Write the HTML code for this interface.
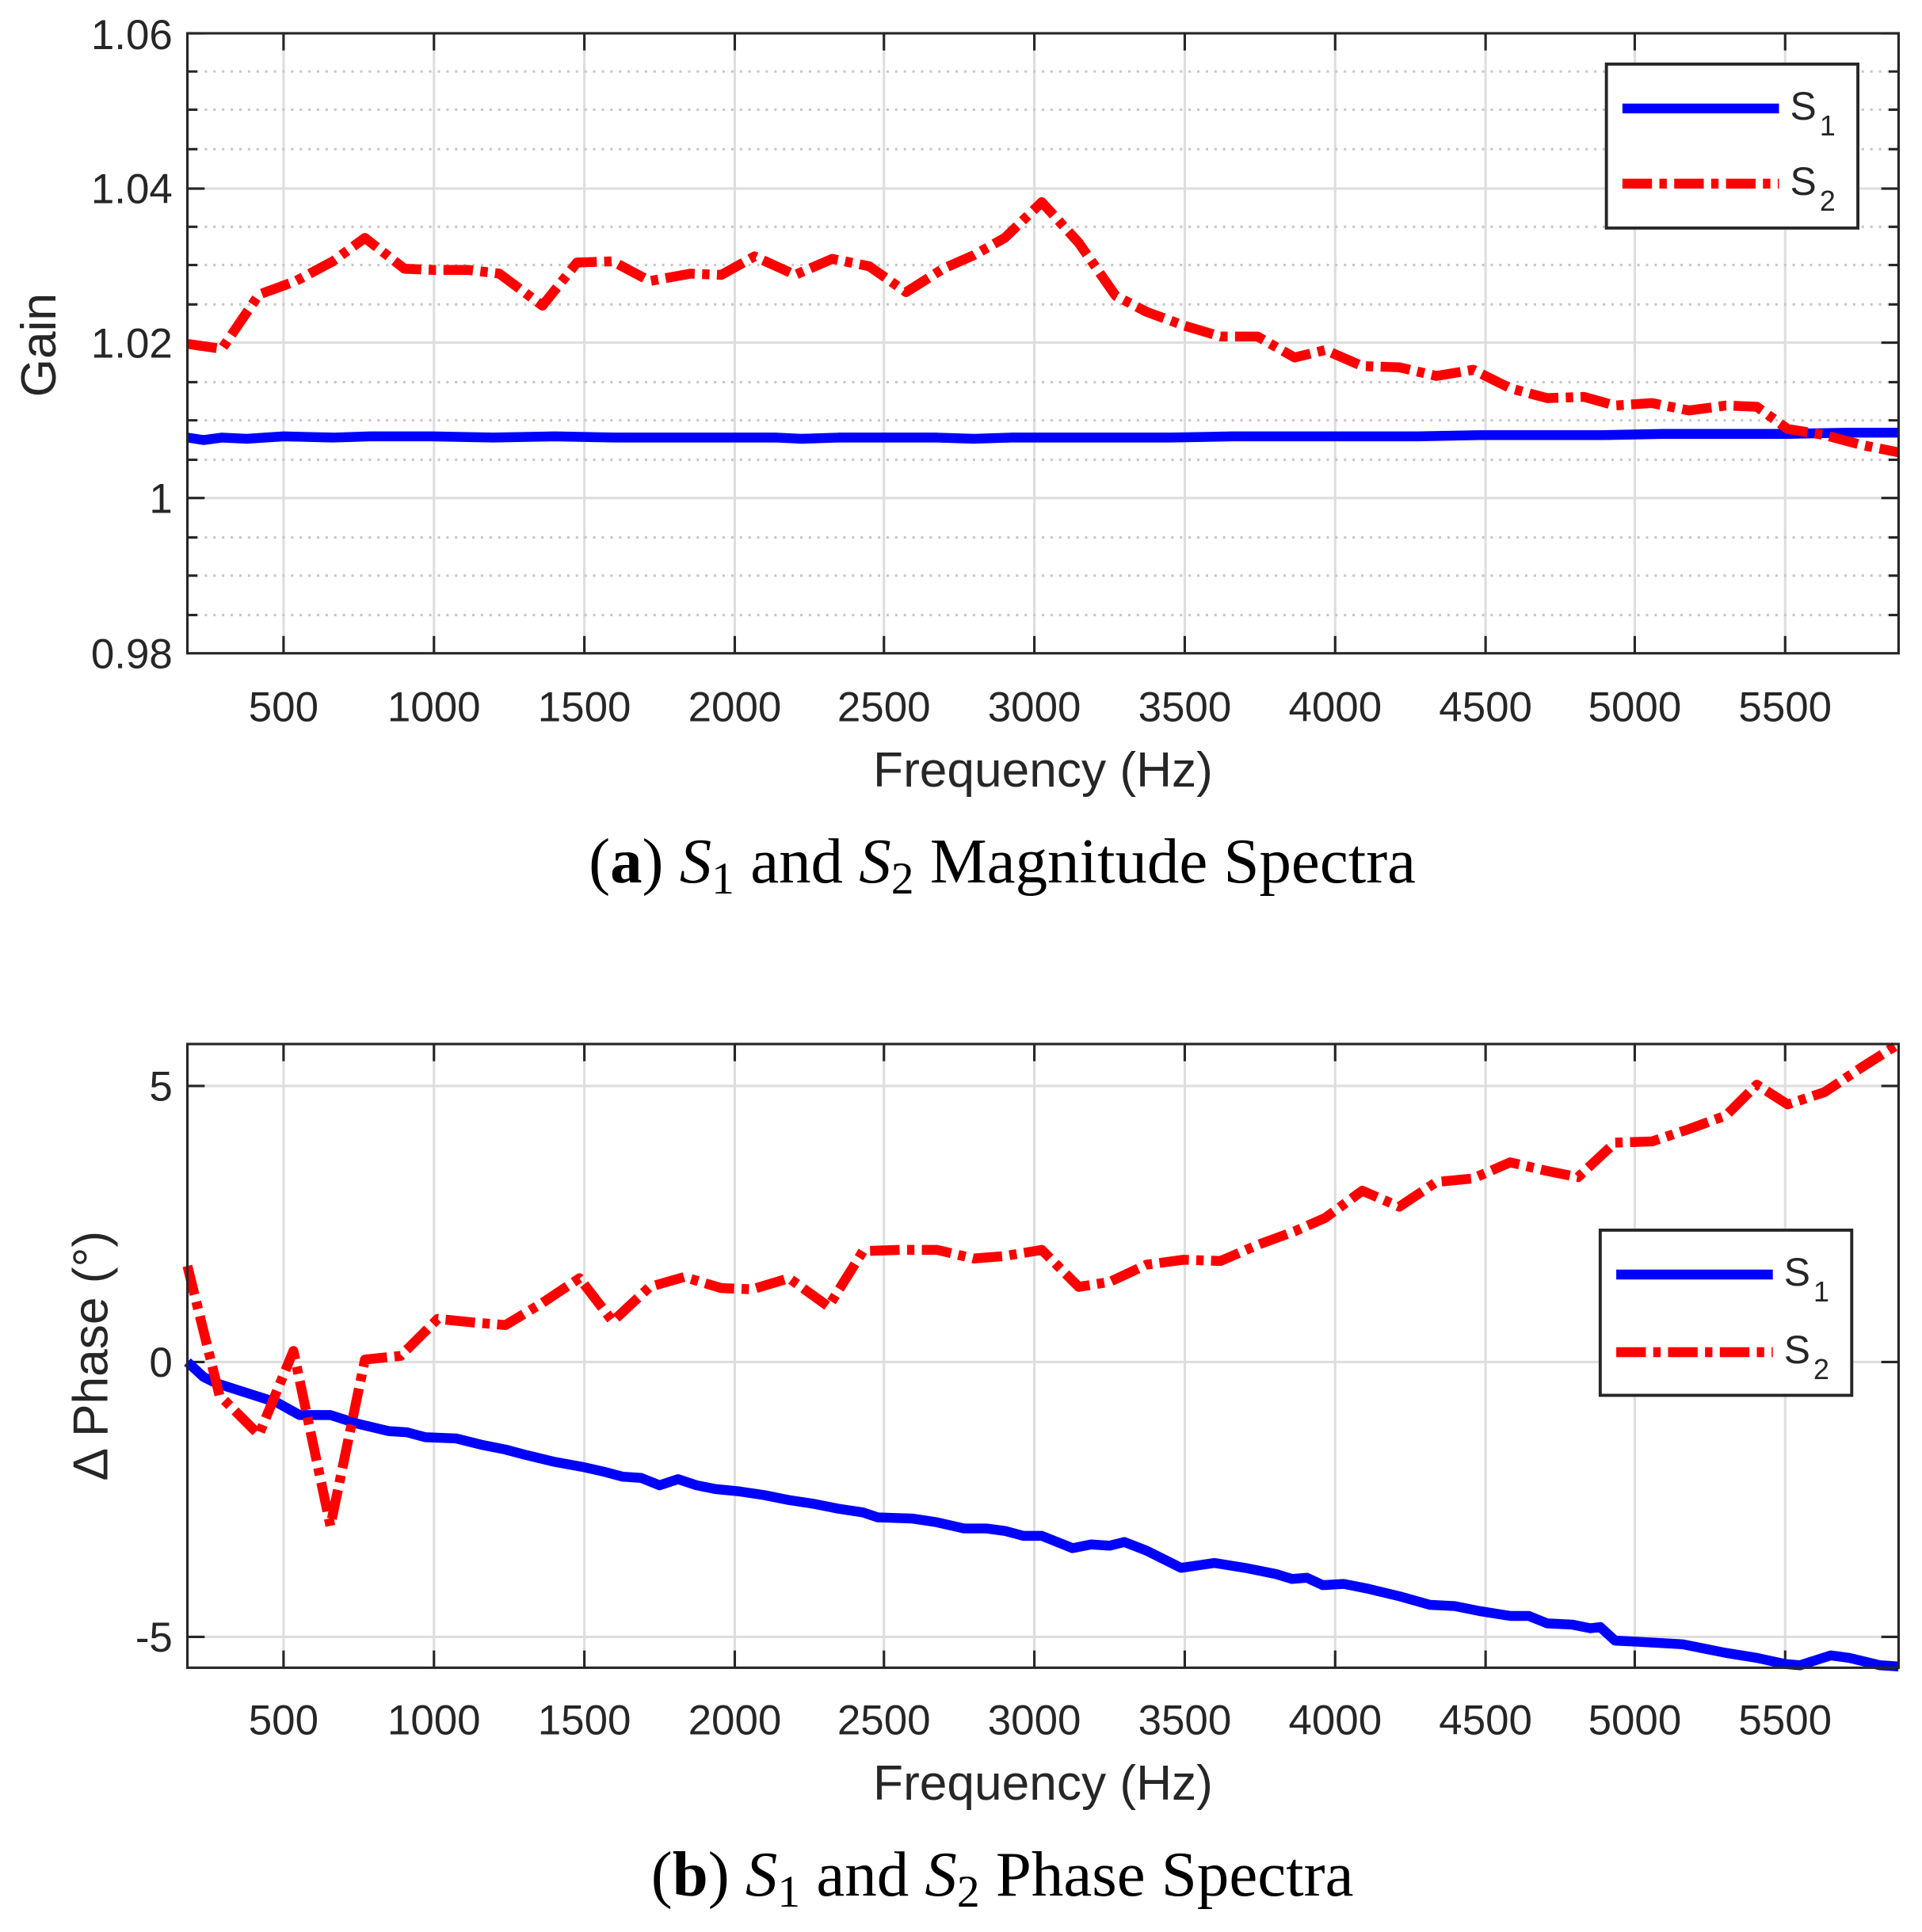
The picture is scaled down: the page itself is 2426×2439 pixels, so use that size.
<!DOCTYPE html>
<html><head><meta charset="utf-8"><style>
html,body{margin:0;padding:0;background:#fff;}
svg{display:block;}
text{font-family:"Liberation Sans",sans-serif;fill:#262626;}
.tk{font-size:34px;}
.ser{font-family:"Liberation Serif",serif;fill:#000;font-size:52px;}
</style></head><body>
<svg width="2426" height="2439" viewBox="0 0 1559 1567.4" preserveAspectRatio="none" xmlns="http://www.w3.org/2000/svg">
<!-- TOP PLOT -->
<g stroke="#dedede" stroke-width="2">
<line x1="230" y1="27" x2="230" y2="530"/><line x1="352" y1="27" x2="352" y2="530"/><line x1="474" y1="27" x2="474" y2="530"/><line x1="596" y1="27" x2="596" y2="530"/><line x1="717" y1="27" x2="717" y2="530"/><line x1="839" y1="27" x2="839" y2="530"/><line x1="961" y1="27" x2="961" y2="530"/><line x1="1083" y1="27" x2="1083" y2="530"/><line x1="1205" y1="27" x2="1205" y2="530"/><line x1="1326" y1="27" x2="1326" y2="530"/><line x1="1448" y1="27" x2="1448" y2="530"/>
<line x1="152" y1="153" x2="1540" y2="153"/><line x1="152" y1="278" x2="1540" y2="278"/><line x1="152" y1="404" x2="1540" y2="404"/>
</g>
<g stroke="#c8c8c8" stroke-width="2" stroke-dasharray="2,5">
<line x1="152" y1="58" x2="1540" y2="58"/><line x1="152" y1="89" x2="1540" y2="89"/><line x1="152" y1="121" x2="1540" y2="121"/>
<line x1="152" y1="184" x2="1540" y2="184"/><line x1="152" y1="215" x2="1540" y2="215"/><line x1="152" y1="247" x2="1540" y2="247"/>
<line x1="152" y1="310" x2="1540" y2="310"/><line x1="152" y1="341" x2="1540" y2="341"/><line x1="152" y1="373" x2="1540" y2="373"/>
<line x1="152" y1="436" x2="1540" y2="436"/><line x1="152" y1="467" x2="1540" y2="467"/><line x1="152" y1="499" x2="1540" y2="499"/>
</g>
<g stroke="#262626" stroke-width="2">
<path d="M230 27v14M352 27v14M474 27v14M596 27v14M717 27v14M839 27v14M961 27v14M1083 27v14M1205 27v14M1326 27v14M1448 27v14"/>
<path d="M230 530v-14M352 530v-14M474 530v-14M596 530v-14M717 530v-14M839 530v-14M961 530v-14M1083 530v-14M1205 530v-14M1326 530v-14M1448 530v-14"/>
<path d="M152 27h14M152 153h14M152 278h14M152 404h14M1540 27h-14M1540 153h-14M1540 278h-14M1540 404h-14"/>
<path d="M152 58h8M152 89h8M152 121h8M152 184h8M152 215h8M152 247h8M152 310h8M152 341h8M152 373h8M152 436h8M152 467h8M152 499h8"/>
<path d="M1540 58h-8M1540 89h-8M1540 121h-8M1540 184h-8M1540 215h-8M1540 247h-8M1540 310h-8M1540 341h-8M1540 373h-8M1540 436h-8M1540 467h-8M1540 499h-8"/>
</g>
<polyline fill="none" stroke="#0000ff" stroke-width="8" stroke-linejoin="round" points="152,355 165,357 180,355 200,356 230,354 270,355 300,354 350,354 400,355 450,354 500,355 550,355 600,355 630,355 650,356 680,355 720,355 760,355 790,356 820,355 860,355 900,355 950,355 1000,354 1050,354 1100,354 1150,354 1200,353 1250,353 1300,353 1350,352 1400,352 1450,352 1500,351 1540,351"/>
<polyline fill="none" stroke="#ff0000" stroke-width="8" stroke-dasharray="24,6,6,6" stroke-linejoin="round" points="152,279 180,283 210,239 240,228 270,212 296,193 328,218 352,219 380,219 405,222 440,248 468,213 497,212 527,228 560,222 585,223 612,208 645,223 675,210 705,216 735,237 765,218 790,207 815,193 845,164 875,197 905,240 930,253 960,264 990,273 1020,273 1050,290 1075,284 1105,297 1135,298 1165,305 1195,300 1225,315 1255,323 1285,322 1310,329 1340,327 1370,333 1400,329 1425,330 1450,348 1480,353 1510,361 1540,367"/>
<rect x="152" y="27" width="1388" height="503" fill="none" stroke="#262626" stroke-width="2"/>
<rect x="1303" y="52" width="204" height="133" fill="#fff" stroke="#262626" stroke-width="2.5"/>
<line x1="1316" y1="88" x2="1443" y2="88" stroke="#0000ff" stroke-width="8"/>
<line x1="1316" y1="149" x2="1443" y2="149" stroke="#ff0000" stroke-width="8" stroke-dasharray="24,6,6,6"/>
<text x="1452" y="97" font-size="32">S</text><text x="1476" y="110" font-size="23">1</text>
<text x="1452" y="158" font-size="32">S</text><text x="1476" y="171" font-size="23">2</text>
<g class="tk" text-anchor="end">
<text x="140" y="40">1.06</text><text x="140" y="165">1.04</text><text x="140" y="290">1.02</text><text x="140" y="416">1</text><text x="140" y="542">0.98</text>
</g>
<g class="tk" text-anchor="middle">
<text x="230" y="585">500</text><text x="352" y="585">1000</text><text x="474" y="585">1500</text><text x="596" y="585">2000</text><text x="717" y="585">2500</text><text x="839" y="585">3000</text><text x="961" y="585">3500</text><text x="1083" y="585">4000</text><text x="1205" y="585">4500</text><text x="1326" y="585">5000</text><text x="1448" y="585">5500</text>
</g>
<text x="846" y="638" font-size="40" text-anchor="middle">Frequency (Hz)</text>
<text transform="translate(45,280) rotate(-90)" font-size="40" text-anchor="middle">Gain</text>
<text class="ser" x="813" y="716" text-anchor="middle">(<tspan font-weight="bold">a</tspan>) <tspan font-style="italic">S</tspan><tspan font-size="37" dy="9">1</tspan><tspan dy="-9"> and </tspan><tspan font-style="italic">S</tspan><tspan font-size="37" dy="9">2</tspan><tspan dy="-9"> Magnitude Spectra</tspan></text>

<!-- BOTTOM PLOT -->
<g stroke="#dedede" stroke-width="2">
<line x1="230" y1="847" x2="230" y2="1353"/><line x1="352" y1="847" x2="352" y2="1353"/><line x1="474" y1="847" x2="474" y2="1353"/><line x1="596" y1="847" x2="596" y2="1353"/><line x1="717" y1="847" x2="717" y2="1353"/><line x1="839" y1="847" x2="839" y2="1353"/><line x1="961" y1="847" x2="961" y2="1353"/><line x1="1083" y1="847" x2="1083" y2="1353"/><line x1="1205" y1="847" x2="1205" y2="1353"/><line x1="1326" y1="847" x2="1326" y2="1353"/><line x1="1448" y1="847" x2="1448" y2="1353"/>
<line x1="152" y1="881" x2="1540" y2="881"/><line x1="152" y1="1105" x2="1540" y2="1105"/><line x1="152" y1="1328" x2="1540" y2="1328"/>
</g>
<g stroke="#262626" stroke-width="2">
<path d="M230 847v14M352 847v14M474 847v14M596 847v14M717 847v14M839 847v14M961 847v14M1083 847v14M1205 847v14M1326 847v14M1448 847v14"/>
<path d="M230 1353v-14M352 1353v-14M474 1353v-14M596 1353v-14M717 1353v-14M839 1353v-14M961 1353v-14M1083 1353v-14M1205 1353v-14M1326 1353v-14M1448 1353v-14"/>
<path d="M152 881h14M152 1105h14M152 1328h14M1540 881h-14M1540 1105h-14M1540 1328h-14"/>
</g>
<polyline fill="none" stroke="#0000ff" stroke-width="8" stroke-linejoin="round" points="152,1105 165,1117 175,1122 200,1130 225,1138 243,1148 268,1148 290,1155 315,1161 330,1162 345,1166 370,1167 390,1172 410,1176 425,1180 450,1186 472,1190 490,1194 505,1198 520,1199 535,1205 550,1200 565,1205 580,1208 600,1210 620,1213 640,1217 660,1220 680,1224 700,1227 712,1231 740,1232 760,1235 782,1240 800,1240 815,1242 830,1246 845,1246 870,1256 885,1253 900,1254 912,1251 930,1258 958,1272 985,1268 1010,1272 1035,1277 1048,1281 1060,1280 1073,1286 1090,1285 1110,1289 1135,1295 1160,1302 1180,1303 1200,1307 1225,1311 1240,1311 1255,1317 1275,1318 1290,1321 1298,1320 1310,1331 1330,1332 1365,1334 1400,1341 1425,1345 1448,1350 1460,1351 1485,1343 1500,1345 1525,1351 1540,1352"/>
<polyline fill="none" stroke="#ff0000" stroke-width="8" stroke-dasharray="24,6,6,6" stroke-linejoin="round" points="152,1027 178,1132 210,1164 238,1096 268,1238 296,1103 325,1100 355,1070 385,1073 410,1075 440,1057 470,1037 497,1072 527,1044 555,1036 585,1045 610,1046 640,1037 672,1060 700,1015 730,1014 760,1014 790,1021 815,1019 845,1014 875,1044 900,1040 930,1026 960,1022 990,1023 1020,1010 1050,999 1075,988 1105,966 1135,979 1165,959 1195,956 1225,943 1255,950 1280,955 1310,927 1340,926 1370,916 1400,905 1425,880 1450,896 1480,886 1510,866 1540,847"/>
<rect x="152" y="847" width="1388" height="506" fill="none" stroke="#262626" stroke-width="2"/>
<rect x="1298" y="998" width="204" height="134" fill="#fff" stroke="#262626" stroke-width="2.5"/>
<line x1="1311" y1="1034" x2="1438" y2="1034" stroke="#0000ff" stroke-width="8"/>
<line x1="1311" y1="1097" x2="1438" y2="1097" stroke="#ff0000" stroke-width="8" stroke-dasharray="24,6,6,6"/>
<text x="1447" y="1043" font-size="32">S</text><text x="1471" y="1056" font-size="23">1</text>
<text x="1447" y="1106" font-size="32">S</text><text x="1471" y="1119" font-size="23">2</text>
<g class="tk" text-anchor="end">
<text x="140" y="893">5</text><text x="140" y="1117">0</text><text x="140" y="1340">-5</text>
</g>
<g class="tk" text-anchor="middle">
<text x="230" y="1407">500</text><text x="352" y="1407">1000</text><text x="474" y="1407">1500</text><text x="596" y="1407">2000</text><text x="717" y="1407">2500</text><text x="839" y="1407">3000</text><text x="961" y="1407">3500</text><text x="1083" y="1407">4000</text><text x="1205" y="1407">4500</text><text x="1326" y="1407">5000</text><text x="1448" y="1407">5500</text>
</g>
<text x="846" y="1460" font-size="40" text-anchor="middle">Frequency (Hz)</text>
<text transform="translate(87,1100) rotate(-90)" font-size="40" text-anchor="middle">Δ Phase (°)</text>
<text class="ser" x="813" y="1538" text-anchor="middle">(<tspan font-weight="bold">b</tspan>) <tspan font-style="italic">S</tspan><tspan font-size="37" dy="9">1</tspan><tspan dy="-9"> and </tspan><tspan font-style="italic">S</tspan><tspan font-size="37" dy="9">2</tspan><tspan dy="-9"> Phase Spectra</tspan></text>
</svg>
</body></html>
